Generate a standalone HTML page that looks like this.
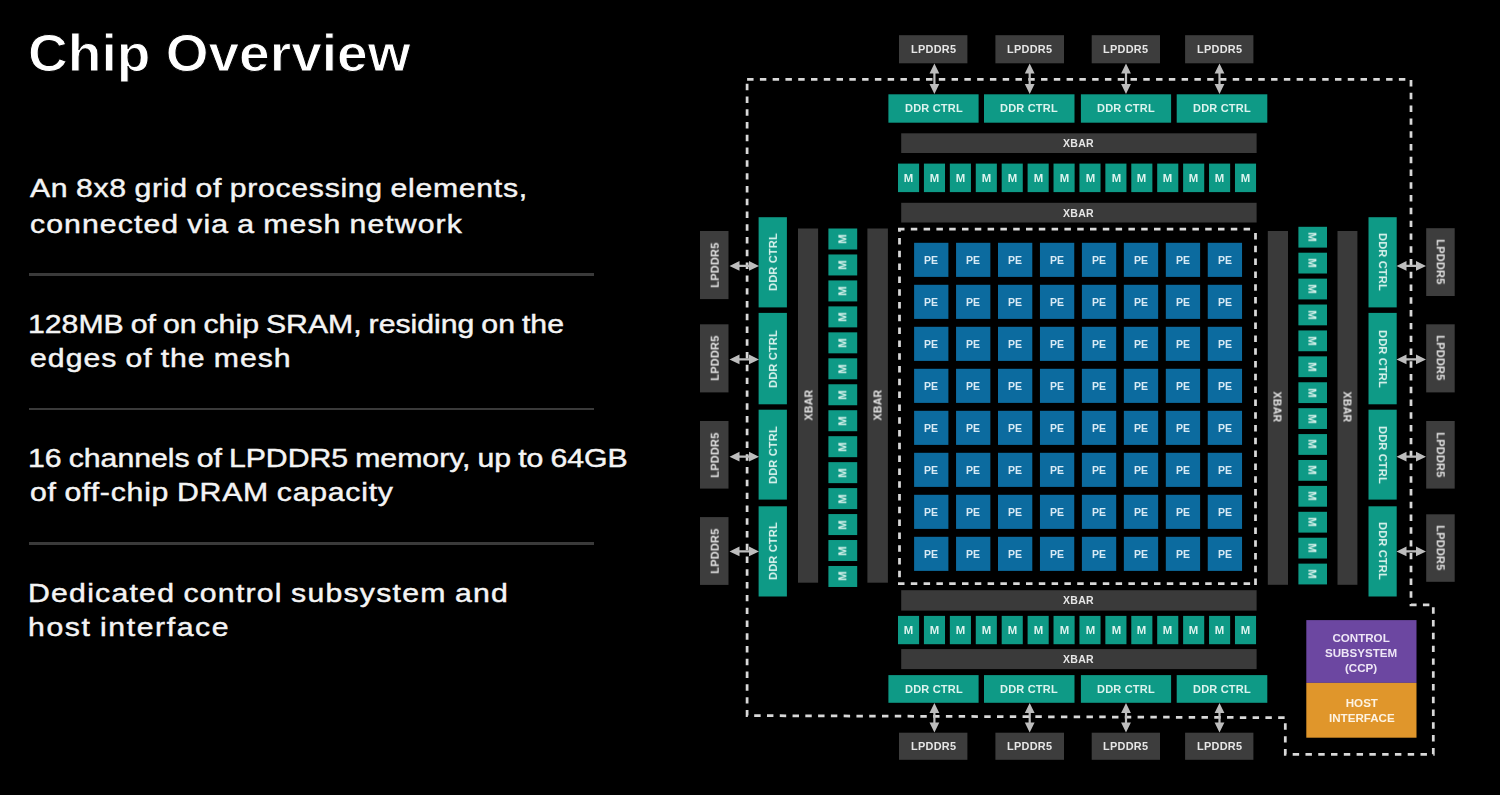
<!DOCTYPE html>
<html><head><meta charset="utf-8"><title>Chip Overview</title>
<style>
html,body{margin:0;padding:0;background:#000;}
body{width:1500px;height:795px;position:relative;overflow:hidden;font-family:"Liberation Sans", sans-serif;}
.b{position:absolute;display:flex;align-items:center;justify-content:center;color:#e6e6e6;font-weight:700;white-space:nowrap;text-align:center;}
.b span{display:block;will-change:transform;}
.rl{transform:rotate(-90deg);}
.rr{transform:rotate(90deg);}
.m span{transform:scaleX(1.08);}
.m .rl{transform:rotate(-90deg) scaleX(1.08);}
.m .rr{transform:rotate(90deg) scaleX(1.08);}
.lp{font-size:10.9px;letter-spacing:0.3px;}
.ddr{font-size:11px;letter-spacing:0.2px;color:#dcf3ee;}
.xb{font-size:10.5px;letter-spacing:0.3px;}
.m{font-size:10.5px;color:#dcf3ee;}
.pe{font-size:10.5px;color:#d8eaf5;}
.ccp{font-size:11.6px;line-height:15px;color:#eee6f6;padding-top:2px;box-sizing:border-box;}
.host{font-size:11.6px;line-height:15px;color:#fdf3e2;padding-bottom:1.5px;box-sizing:border-box;}
.ov{position:absolute;left:0;top:0;}
#stage{position:absolute;left:0;top:0;width:1500px;height:795px;overflow:hidden;background:#000;filter:blur(0.6px);}
.t,.p{position:absolute;white-space:nowrap;line-height:1;color:#fff;transform-origin:0 50%;}
.t{font-size:52.0px;font-weight:700;-webkit-text-stroke:1.0px #000;}
.p{font-size:26.5px;font-weight:400;color:#f4f4f4;word-spacing:-1.2px;-webkit-text-stroke:0.45px #f4f4f4;}
.dv{position:absolute;left:28.5px;width:565.4px;height:2.5px;background:#3a3a3a;}
</style></head>
<body>
<div id="stage">
<div class="t" id="L0" style="left:27.65px;top:27.08px;transform:scaleX(1.0589);letter-spacing:0.000px">Chip Overview</div>
<div class="p" id="L1" style="left:29.64px;top:175.27px;transform:scaleX(1.1400);letter-spacing:0.612px">An 8x8 grid of processing elements,</div>
<div class="p" id="L2" style="left:29.57px;top:210.57px;transform:scaleX(1.1400);letter-spacing:0.951px">connected via a mesh network</div>
<div class="p" id="L3" style="left:27.58px;top:310.67px;transform:scaleX(1.1400);letter-spacing:-0.005px">128MB of on chip SRAM, residing on the</div>
<div class="p" id="L4" style="left:29.57px;top:345.27px;transform:scaleX(1.1400);letter-spacing:0.887px">edges of the mesh</div>
<div class="p" id="L5" style="left:27.58px;top:444.97px;transform:scaleX(1.1400);letter-spacing:0.006px">16 channels of LPDDR5 memory, up to 64GB</div>
<div class="p" id="L6" style="left:29.57px;top:479.47px;transform:scaleX(1.1400);letter-spacing:0.673px">of off-chip DRAM capacity</div>
<div class="p" id="L7" style="left:27.58px;top:579.77px;transform:scaleX(1.1400);letter-spacing:1.088px">Dedicated control subsystem and</div>
<div class="p" id="L8" style="left:27.58px;top:614.07px;transform:scaleX(1.1400);letter-spacing:1.387px">host interface</div>
<div class="dv" style="top:273.25px"></div>
<div class="dv" style="top:407.55px"></div>
<div class="dv" style="top:542.45px"></div>
<svg class="ov" width="1500" height="795" viewBox="0 0 1500 795">
<rect x="899.00" y="35.20" width="68.40" height="28.10" fill="#3d3d3d"/>
<rect x="995.40" y="35.20" width="68.60" height="28.10" fill="#3d3d3d"/>
<rect x="1091.70" y="35.20" width="68.30" height="28.10" fill="#3d3d3d"/>
<rect x="1185.10" y="35.20" width="68.30" height="28.10" fill="#3d3d3d"/>
<rect x="888.40" y="94.30" width="90.20" height="28.40" fill="#0e9a86"/>
<rect x="984.00" y="94.30" width="90.50" height="28.40" fill="#0e9a86"/>
<rect x="1080.90" y="94.30" width="90.20" height="28.40" fill="#0e9a86"/>
<rect x="1176.70" y="94.30" width="90.60" height="28.40" fill="#0e9a86"/>
<rect x="901.20" y="133.30" width="355.40" height="19.70" fill="#3a3a3a"/>
<rect x="898.00" y="163.60" width="21.10" height="28.50" fill="#0e9a86"/>
<rect x="923.92" y="163.60" width="21.10" height="28.50" fill="#0e9a86"/>
<rect x="949.84" y="163.60" width="21.10" height="28.50" fill="#0e9a86"/>
<rect x="975.76" y="163.60" width="21.10" height="28.50" fill="#0e9a86"/>
<rect x="1001.68" y="163.60" width="21.10" height="28.50" fill="#0e9a86"/>
<rect x="1027.60" y="163.60" width="21.10" height="28.50" fill="#0e9a86"/>
<rect x="1053.52" y="163.60" width="21.10" height="28.50" fill="#0e9a86"/>
<rect x="1079.44" y="163.60" width="21.10" height="28.50" fill="#0e9a86"/>
<rect x="1105.36" y="163.60" width="21.10" height="28.50" fill="#0e9a86"/>
<rect x="1131.28" y="163.60" width="21.10" height="28.50" fill="#0e9a86"/>
<rect x="1157.20" y="163.60" width="21.10" height="28.50" fill="#0e9a86"/>
<rect x="1183.12" y="163.60" width="21.10" height="28.50" fill="#0e9a86"/>
<rect x="1209.04" y="163.60" width="21.10" height="28.50" fill="#0e9a86"/>
<rect x="1234.96" y="163.60" width="21.10" height="28.50" fill="#0e9a86"/>
<rect x="901.20" y="202.80" width="355.40" height="19.70" fill="#3a3a3a"/>
<rect x="901.20" y="590.20" width="355.40" height="20.40" fill="#3a3a3a"/>
<rect x="898.00" y="615.90" width="21.10" height="28.30" fill="#0e9a86"/>
<rect x="923.92" y="615.90" width="21.10" height="28.30" fill="#0e9a86"/>
<rect x="949.84" y="615.90" width="21.10" height="28.30" fill="#0e9a86"/>
<rect x="975.76" y="615.90" width="21.10" height="28.30" fill="#0e9a86"/>
<rect x="1001.68" y="615.90" width="21.10" height="28.30" fill="#0e9a86"/>
<rect x="1027.60" y="615.90" width="21.10" height="28.30" fill="#0e9a86"/>
<rect x="1053.52" y="615.90" width="21.10" height="28.30" fill="#0e9a86"/>
<rect x="1079.44" y="615.90" width="21.10" height="28.30" fill="#0e9a86"/>
<rect x="1105.36" y="615.90" width="21.10" height="28.30" fill="#0e9a86"/>
<rect x="1131.28" y="615.90" width="21.10" height="28.30" fill="#0e9a86"/>
<rect x="1157.20" y="615.90" width="21.10" height="28.30" fill="#0e9a86"/>
<rect x="1183.12" y="615.90" width="21.10" height="28.30" fill="#0e9a86"/>
<rect x="1209.04" y="615.90" width="21.10" height="28.30" fill="#0e9a86"/>
<rect x="1234.96" y="615.90" width="21.10" height="28.30" fill="#0e9a86"/>
<rect x="901.20" y="649.10" width="355.40" height="20.00" fill="#3a3a3a"/>
<rect x="888.40" y="675.10" width="90.20" height="27.70" fill="#0e9a86"/>
<rect x="984.00" y="675.10" width="90.50" height="27.70" fill="#0e9a86"/>
<rect x="1080.90" y="675.10" width="90.20" height="27.70" fill="#0e9a86"/>
<rect x="1176.70" y="675.10" width="90.60" height="27.70" fill="#0e9a86"/>
<rect x="899.00" y="732.70" width="68.40" height="27.10" fill="#3d3d3d"/>
<rect x="995.40" y="732.70" width="68.60" height="27.10" fill="#3d3d3d"/>
<rect x="1091.70" y="732.70" width="68.30" height="27.10" fill="#3d3d3d"/>
<rect x="1185.10" y="732.70" width="68.30" height="27.10" fill="#3d3d3d"/>
<rect x="700.00" y="231.00" width="28.50" height="68.10" fill="#3d3d3d"/>
<rect x="700.00" y="324.30" width="28.50" height="68.10" fill="#3d3d3d"/>
<rect x="700.00" y="421.00" width="28.50" height="67.60" fill="#3d3d3d"/>
<rect x="700.00" y="517.10" width="28.50" height="67.80" fill="#3d3d3d"/>
<rect x="758.60" y="217.20" width="28.30" height="90.20" fill="#0e9a86"/>
<rect x="758.60" y="312.90" width="28.30" height="91.40" fill="#0e9a86"/>
<rect x="758.60" y="409.70" width="28.30" height="89.90" fill="#0e9a86"/>
<rect x="758.60" y="506.30" width="28.30" height="90.20" fill="#0e9a86"/>
<rect x="798.00" y="228.50" width="20.10" height="354.20" fill="#3a3a3a"/>
<rect x="828.40" y="228.50" width="28.80" height="21.00" fill="#0e9a86"/>
<rect x="828.40" y="254.46" width="28.80" height="21.00" fill="#0e9a86"/>
<rect x="828.40" y="280.42" width="28.80" height="21.00" fill="#0e9a86"/>
<rect x="828.40" y="306.38" width="28.80" height="21.00" fill="#0e9a86"/>
<rect x="828.40" y="332.34" width="28.80" height="21.00" fill="#0e9a86"/>
<rect x="828.40" y="358.30" width="28.80" height="21.00" fill="#0e9a86"/>
<rect x="828.40" y="384.26" width="28.80" height="21.00" fill="#0e9a86"/>
<rect x="828.40" y="410.22" width="28.80" height="21.00" fill="#0e9a86"/>
<rect x="828.40" y="436.18" width="28.80" height="21.00" fill="#0e9a86"/>
<rect x="828.40" y="462.14" width="28.80" height="21.00" fill="#0e9a86"/>
<rect x="828.40" y="488.10" width="28.80" height="21.00" fill="#0e9a86"/>
<rect x="828.40" y="514.06" width="28.80" height="21.00" fill="#0e9a86"/>
<rect x="828.40" y="540.02" width="28.80" height="21.00" fill="#0e9a86"/>
<rect x="828.40" y="565.98" width="28.80" height="21.00" fill="#0e9a86"/>
<rect x="867.40" y="228.50" width="20.50" height="354.20" fill="#3a3a3a"/>
<rect x="1267.80" y="231.00" width="20.20" height="353.80" fill="#3a3a3a"/>
<rect x="1298.40" y="226.80" width="28.60" height="20.80" fill="#0e9a86"/>
<rect x="1298.40" y="252.71" width="28.60" height="20.80" fill="#0e9a86"/>
<rect x="1298.40" y="278.62" width="28.60" height="20.80" fill="#0e9a86"/>
<rect x="1298.40" y="304.53" width="28.60" height="20.80" fill="#0e9a86"/>
<rect x="1298.40" y="330.44" width="28.60" height="20.80" fill="#0e9a86"/>
<rect x="1298.40" y="356.35" width="28.60" height="20.80" fill="#0e9a86"/>
<rect x="1298.40" y="382.26" width="28.60" height="20.80" fill="#0e9a86"/>
<rect x="1298.40" y="408.17" width="28.60" height="20.80" fill="#0e9a86"/>
<rect x="1298.40" y="434.08" width="28.60" height="20.80" fill="#0e9a86"/>
<rect x="1298.40" y="459.99" width="28.60" height="20.80" fill="#0e9a86"/>
<rect x="1298.40" y="485.90" width="28.60" height="20.80" fill="#0e9a86"/>
<rect x="1298.40" y="511.81" width="28.60" height="20.80" fill="#0e9a86"/>
<rect x="1298.40" y="537.72" width="28.60" height="20.80" fill="#0e9a86"/>
<rect x="1298.40" y="563.63" width="28.60" height="20.80" fill="#0e9a86"/>
<rect x="1337.50" y="231.00" width="19.90" height="353.80" fill="#3a3a3a"/>
<rect x="1368.50" y="217.20" width="28.20" height="90.20" fill="#0e9a86"/>
<rect x="1368.50" y="312.90" width="28.20" height="91.40" fill="#0e9a86"/>
<rect x="1368.50" y="409.70" width="28.20" height="89.90" fill="#0e9a86"/>
<rect x="1368.50" y="506.30" width="28.20" height="90.20" fill="#0e9a86"/>
<rect x="1426.20" y="228.20" width="28.50" height="67.80" fill="#3d3d3d"/>
<rect x="1426.20" y="324.30" width="28.50" height="68.10" fill="#3d3d3d"/>
<rect x="1426.20" y="421.00" width="28.50" height="67.60" fill="#3d3d3d"/>
<rect x="1426.20" y="514.30" width="28.50" height="67.50" fill="#3d3d3d"/>
<rect x="914.10" y="242.80" width="34.30" height="34.10" fill="#0c6b9f"/>
<rect x="956.05" y="242.80" width="34.30" height="34.10" fill="#0c6b9f"/>
<rect x="998.00" y="242.80" width="34.30" height="34.10" fill="#0c6b9f"/>
<rect x="1039.95" y="242.80" width="34.30" height="34.10" fill="#0c6b9f"/>
<rect x="1081.90" y="242.80" width="34.30" height="34.10" fill="#0c6b9f"/>
<rect x="1123.85" y="242.80" width="34.30" height="34.10" fill="#0c6b9f"/>
<rect x="1165.80" y="242.80" width="34.30" height="34.10" fill="#0c6b9f"/>
<rect x="1207.75" y="242.80" width="34.30" height="34.10" fill="#0c6b9f"/>
<rect x="914.10" y="284.80" width="34.30" height="34.10" fill="#0c6b9f"/>
<rect x="956.05" y="284.80" width="34.30" height="34.10" fill="#0c6b9f"/>
<rect x="998.00" y="284.80" width="34.30" height="34.10" fill="#0c6b9f"/>
<rect x="1039.95" y="284.80" width="34.30" height="34.10" fill="#0c6b9f"/>
<rect x="1081.90" y="284.80" width="34.30" height="34.10" fill="#0c6b9f"/>
<rect x="1123.85" y="284.80" width="34.30" height="34.10" fill="#0c6b9f"/>
<rect x="1165.80" y="284.80" width="34.30" height="34.10" fill="#0c6b9f"/>
<rect x="1207.75" y="284.80" width="34.30" height="34.10" fill="#0c6b9f"/>
<rect x="914.10" y="326.80" width="34.30" height="34.10" fill="#0c6b9f"/>
<rect x="956.05" y="326.80" width="34.30" height="34.10" fill="#0c6b9f"/>
<rect x="998.00" y="326.80" width="34.30" height="34.10" fill="#0c6b9f"/>
<rect x="1039.95" y="326.80" width="34.30" height="34.10" fill="#0c6b9f"/>
<rect x="1081.90" y="326.80" width="34.30" height="34.10" fill="#0c6b9f"/>
<rect x="1123.85" y="326.80" width="34.30" height="34.10" fill="#0c6b9f"/>
<rect x="1165.80" y="326.80" width="34.30" height="34.10" fill="#0c6b9f"/>
<rect x="1207.75" y="326.80" width="34.30" height="34.10" fill="#0c6b9f"/>
<rect x="914.10" y="368.80" width="34.30" height="34.10" fill="#0c6b9f"/>
<rect x="956.05" y="368.80" width="34.30" height="34.10" fill="#0c6b9f"/>
<rect x="998.00" y="368.80" width="34.30" height="34.10" fill="#0c6b9f"/>
<rect x="1039.95" y="368.80" width="34.30" height="34.10" fill="#0c6b9f"/>
<rect x="1081.90" y="368.80" width="34.30" height="34.10" fill="#0c6b9f"/>
<rect x="1123.85" y="368.80" width="34.30" height="34.10" fill="#0c6b9f"/>
<rect x="1165.80" y="368.80" width="34.30" height="34.10" fill="#0c6b9f"/>
<rect x="1207.75" y="368.80" width="34.30" height="34.10" fill="#0c6b9f"/>
<rect x="914.10" y="410.80" width="34.30" height="34.10" fill="#0c6b9f"/>
<rect x="956.05" y="410.80" width="34.30" height="34.10" fill="#0c6b9f"/>
<rect x="998.00" y="410.80" width="34.30" height="34.10" fill="#0c6b9f"/>
<rect x="1039.95" y="410.80" width="34.30" height="34.10" fill="#0c6b9f"/>
<rect x="1081.90" y="410.80" width="34.30" height="34.10" fill="#0c6b9f"/>
<rect x="1123.85" y="410.80" width="34.30" height="34.10" fill="#0c6b9f"/>
<rect x="1165.80" y="410.80" width="34.30" height="34.10" fill="#0c6b9f"/>
<rect x="1207.75" y="410.80" width="34.30" height="34.10" fill="#0c6b9f"/>
<rect x="914.10" y="452.80" width="34.30" height="34.10" fill="#0c6b9f"/>
<rect x="956.05" y="452.80" width="34.30" height="34.10" fill="#0c6b9f"/>
<rect x="998.00" y="452.80" width="34.30" height="34.10" fill="#0c6b9f"/>
<rect x="1039.95" y="452.80" width="34.30" height="34.10" fill="#0c6b9f"/>
<rect x="1081.90" y="452.80" width="34.30" height="34.10" fill="#0c6b9f"/>
<rect x="1123.85" y="452.80" width="34.30" height="34.10" fill="#0c6b9f"/>
<rect x="1165.80" y="452.80" width="34.30" height="34.10" fill="#0c6b9f"/>
<rect x="1207.75" y="452.80" width="34.30" height="34.10" fill="#0c6b9f"/>
<rect x="914.10" y="494.80" width="34.30" height="34.10" fill="#0c6b9f"/>
<rect x="956.05" y="494.80" width="34.30" height="34.10" fill="#0c6b9f"/>
<rect x="998.00" y="494.80" width="34.30" height="34.10" fill="#0c6b9f"/>
<rect x="1039.95" y="494.80" width="34.30" height="34.10" fill="#0c6b9f"/>
<rect x="1081.90" y="494.80" width="34.30" height="34.10" fill="#0c6b9f"/>
<rect x="1123.85" y="494.80" width="34.30" height="34.10" fill="#0c6b9f"/>
<rect x="1165.80" y="494.80" width="34.30" height="34.10" fill="#0c6b9f"/>
<rect x="1207.75" y="494.80" width="34.30" height="34.10" fill="#0c6b9f"/>
<rect x="914.10" y="536.80" width="34.30" height="34.10" fill="#0c6b9f"/>
<rect x="956.05" y="536.80" width="34.30" height="34.10" fill="#0c6b9f"/>
<rect x="998.00" y="536.80" width="34.30" height="34.10" fill="#0c6b9f"/>
<rect x="1039.95" y="536.80" width="34.30" height="34.10" fill="#0c6b9f"/>
<rect x="1081.90" y="536.80" width="34.30" height="34.10" fill="#0c6b9f"/>
<rect x="1123.85" y="536.80" width="34.30" height="34.10" fill="#0c6b9f"/>
<rect x="1165.80" y="536.80" width="34.30" height="34.10" fill="#0c6b9f"/>
<rect x="1207.75" y="536.80" width="34.30" height="34.10" fill="#0c6b9f"/>
<rect x="1306.30" y="620.10" width="110.20" height="62.80" fill="#6c47a1"/>
<rect x="1306.30" y="682.90" width="110.20" height="54.80" fill="#e0962b"/>
<path d="M747.1 79.4 H1411 V604.9 H1433.3 V754.3 H1285.3 V717.7 L747.1 715.6 Z" fill="none" stroke="#d8d8d8" stroke-width="2.75" stroke-dasharray="6.45 6.33"/>
<g fill="none" stroke="#d8d8d8" stroke-width="2.75" stroke-dasharray="6.5 6.3">
<path d="M898.0 229.2 H1255.5"/>
<path d="M898.0 583.6 H1255.5"/>
<path d="M1255.5 585.1 V229.2"/>
<path d="M899.5 583.6 V229.2" stroke-dashoffset="6.5"/>
</g>
<polygon fill="#bdbdbd" points="934.40,63.50 939.30,73.50 935.50,73.50 935.50,84.00 939.30,84.00 934.40,94.00 929.50,84.00 933.30,84.00 933.30,73.50 929.50,73.50"/>
<polygon fill="#bdbdbd" points="934.40,703.00 939.30,713.00 935.50,713.00 935.50,722.50 939.30,722.50 934.40,732.50 929.50,722.50 933.30,722.50 933.30,713.00 929.50,713.00"/>
<polygon fill="#bdbdbd" points="1029.70,63.50 1034.60,73.50 1030.80,73.50 1030.80,84.00 1034.60,84.00 1029.70,94.00 1024.80,84.00 1028.60,84.00 1028.60,73.50 1024.80,73.50"/>
<polygon fill="#bdbdbd" points="1029.70,703.00 1034.60,713.00 1030.80,713.00 1030.80,722.50 1034.60,722.50 1029.70,732.50 1024.80,722.50 1028.60,722.50 1028.60,713.00 1024.80,713.00"/>
<polygon fill="#bdbdbd" points="1126.00,63.50 1130.90,73.50 1127.10,73.50 1127.10,84.00 1130.90,84.00 1126.00,94.00 1121.10,84.00 1124.90,84.00 1124.90,73.50 1121.10,73.50"/>
<polygon fill="#bdbdbd" points="1126.00,703.00 1130.90,713.00 1127.10,713.00 1127.10,722.50 1130.90,722.50 1126.00,732.50 1121.10,722.50 1124.90,722.50 1124.90,713.00 1121.10,713.00"/>
<polygon fill="#bdbdbd" points="1219.50,63.50 1224.40,73.50 1220.60,73.50 1220.60,84.00 1224.40,84.00 1219.50,94.00 1214.60,84.00 1218.40,84.00 1218.40,73.50 1214.60,73.50"/>
<polygon fill="#bdbdbd" points="1219.50,703.00 1224.40,713.00 1220.60,713.00 1220.60,722.50 1224.40,722.50 1219.50,732.50 1214.60,722.50 1218.40,722.50 1218.40,713.00 1214.60,713.00"/>
<polygon fill="#bdbdbd" points="729.50,265.90 739.50,261.00 739.50,264.80 749.00,264.80 749.00,261.00 759.00,265.90 749.00,270.80 749.00,267.00 739.50,267.00 739.50,270.80"/>
<polygon fill="#bdbdbd" points="1396.50,265.90 1406.50,261.00 1406.50,264.80 1416.00,264.80 1416.00,261.00 1426.00,265.90 1416.00,270.80 1416.00,267.00 1406.50,267.00 1406.50,270.80"/>
<polygon fill="#bdbdbd" points="729.50,359.40 739.50,354.50 739.50,358.30 749.00,358.30 749.00,354.50 759.00,359.40 749.00,364.30 749.00,360.50 739.50,360.50 739.50,364.30"/>
<polygon fill="#bdbdbd" points="1396.50,359.40 1406.50,354.50 1406.50,358.30 1416.00,358.30 1416.00,354.50 1426.00,359.40 1416.00,364.30 1416.00,360.50 1406.50,360.50 1406.50,364.30"/>
<polygon fill="#bdbdbd" points="729.50,456.70 739.50,451.80 739.50,455.60 749.00,455.60 749.00,451.80 759.00,456.70 749.00,461.60 749.00,457.80 739.50,457.80 739.50,461.60"/>
<polygon fill="#bdbdbd" points="1396.50,456.70 1406.50,451.80 1406.50,455.60 1416.00,455.60 1416.00,451.80 1426.00,456.70 1416.00,461.60 1416.00,457.80 1406.50,457.80 1406.50,461.60"/>
<polygon fill="#bdbdbd" points="729.50,551.40 739.50,546.50 739.50,550.30 749.00,550.30 749.00,546.50 759.00,551.40 749.00,556.30 749.00,552.50 739.50,552.50 739.50,556.30"/>
<polygon fill="#bdbdbd" points="1396.50,551.40 1406.50,546.50 1406.50,550.30 1416.00,550.30 1416.00,546.50 1426.00,551.40 1416.00,556.30 1416.00,552.50 1406.50,552.50 1406.50,556.30"/>
</svg>
<div class="b lp" style="left:899.00px;top:35.20px;width:68.40px;height:28.10px;"><span>LPDDR5</span></div>
<div class="b lp" style="left:995.40px;top:35.20px;width:68.60px;height:28.10px;"><span>LPDDR5</span></div>
<div class="b lp" style="left:1091.70px;top:35.20px;width:68.30px;height:28.10px;"><span>LPDDR5</span></div>
<div class="b lp" style="left:1185.10px;top:35.20px;width:68.30px;height:28.10px;"><span>LPDDR5</span></div>
<div class="b ddr" style="left:888.40px;top:94.30px;width:90.20px;height:28.40px;"><span>DDR CTRL</span></div>
<div class="b ddr" style="left:984.00px;top:94.30px;width:90.50px;height:28.40px;"><span>DDR CTRL</span></div>
<div class="b ddr" style="left:1080.90px;top:94.30px;width:90.20px;height:28.40px;"><span>DDR CTRL</span></div>
<div class="b ddr" style="left:1176.70px;top:94.30px;width:90.60px;height:28.40px;"><span>DDR CTRL</span></div>
<div class="b xb" style="left:901.20px;top:133.30px;width:355.40px;height:19.70px;"><span>XBAR</span></div>
<div class="b m" style="left:898.00px;top:163.60px;width:21.10px;height:28.50px;"><span>M</span></div>
<div class="b m" style="left:923.92px;top:163.60px;width:21.10px;height:28.50px;"><span>M</span></div>
<div class="b m" style="left:949.84px;top:163.60px;width:21.10px;height:28.50px;"><span>M</span></div>
<div class="b m" style="left:975.76px;top:163.60px;width:21.10px;height:28.50px;"><span>M</span></div>
<div class="b m" style="left:1001.68px;top:163.60px;width:21.10px;height:28.50px;"><span>M</span></div>
<div class="b m" style="left:1027.60px;top:163.60px;width:21.10px;height:28.50px;"><span>M</span></div>
<div class="b m" style="left:1053.52px;top:163.60px;width:21.10px;height:28.50px;"><span>M</span></div>
<div class="b m" style="left:1079.44px;top:163.60px;width:21.10px;height:28.50px;"><span>M</span></div>
<div class="b m" style="left:1105.36px;top:163.60px;width:21.10px;height:28.50px;"><span>M</span></div>
<div class="b m" style="left:1131.28px;top:163.60px;width:21.10px;height:28.50px;"><span>M</span></div>
<div class="b m" style="left:1157.20px;top:163.60px;width:21.10px;height:28.50px;"><span>M</span></div>
<div class="b m" style="left:1183.12px;top:163.60px;width:21.10px;height:28.50px;"><span>M</span></div>
<div class="b m" style="left:1209.04px;top:163.60px;width:21.10px;height:28.50px;"><span>M</span></div>
<div class="b m" style="left:1234.96px;top:163.60px;width:21.10px;height:28.50px;"><span>M</span></div>
<div class="b xb" style="left:901.20px;top:202.80px;width:355.40px;height:19.70px;"><span>XBAR</span></div>
<div class="b xb" style="left:901.20px;top:590.20px;width:355.40px;height:20.40px;"><span>XBAR</span></div>
<div class="b m" style="left:898.00px;top:615.90px;width:21.10px;height:28.30px;"><span>M</span></div>
<div class="b m" style="left:923.92px;top:615.90px;width:21.10px;height:28.30px;"><span>M</span></div>
<div class="b m" style="left:949.84px;top:615.90px;width:21.10px;height:28.30px;"><span>M</span></div>
<div class="b m" style="left:975.76px;top:615.90px;width:21.10px;height:28.30px;"><span>M</span></div>
<div class="b m" style="left:1001.68px;top:615.90px;width:21.10px;height:28.30px;"><span>M</span></div>
<div class="b m" style="left:1027.60px;top:615.90px;width:21.10px;height:28.30px;"><span>M</span></div>
<div class="b m" style="left:1053.52px;top:615.90px;width:21.10px;height:28.30px;"><span>M</span></div>
<div class="b m" style="left:1079.44px;top:615.90px;width:21.10px;height:28.30px;"><span>M</span></div>
<div class="b m" style="left:1105.36px;top:615.90px;width:21.10px;height:28.30px;"><span>M</span></div>
<div class="b m" style="left:1131.28px;top:615.90px;width:21.10px;height:28.30px;"><span>M</span></div>
<div class="b m" style="left:1157.20px;top:615.90px;width:21.10px;height:28.30px;"><span>M</span></div>
<div class="b m" style="left:1183.12px;top:615.90px;width:21.10px;height:28.30px;"><span>M</span></div>
<div class="b m" style="left:1209.04px;top:615.90px;width:21.10px;height:28.30px;"><span>M</span></div>
<div class="b m" style="left:1234.96px;top:615.90px;width:21.10px;height:28.30px;"><span>M</span></div>
<div class="b xb" style="left:901.20px;top:649.10px;width:355.40px;height:20.00px;"><span>XBAR</span></div>
<div class="b ddr" style="left:888.40px;top:675.10px;width:90.20px;height:27.70px;"><span>DDR CTRL</span></div>
<div class="b ddr" style="left:984.00px;top:675.10px;width:90.50px;height:27.70px;"><span>DDR CTRL</span></div>
<div class="b ddr" style="left:1080.90px;top:675.10px;width:90.20px;height:27.70px;"><span>DDR CTRL</span></div>
<div class="b ddr" style="left:1176.70px;top:675.10px;width:90.60px;height:27.70px;"><span>DDR CTRL</span></div>
<div class="b lp" style="left:899.00px;top:732.70px;width:68.40px;height:27.10px;"><span>LPDDR5</span></div>
<div class="b lp" style="left:995.40px;top:732.70px;width:68.60px;height:27.10px;"><span>LPDDR5</span></div>
<div class="b lp" style="left:1091.70px;top:732.70px;width:68.30px;height:27.10px;"><span>LPDDR5</span></div>
<div class="b lp" style="left:1185.10px;top:732.70px;width:68.30px;height:27.10px;"><span>LPDDR5</span></div>
<div class="b lp" style="left:700.00px;top:231.00px;width:28.50px;height:68.10px;"><span class="rl">LPDDR5</span></div>
<div class="b lp" style="left:700.00px;top:324.30px;width:28.50px;height:68.10px;"><span class="rl">LPDDR5</span></div>
<div class="b lp" style="left:700.00px;top:421.00px;width:28.50px;height:67.60px;"><span class="rl">LPDDR5</span></div>
<div class="b lp" style="left:700.00px;top:517.10px;width:28.50px;height:67.80px;"><span class="rl">LPDDR5</span></div>
<div class="b ddr" style="left:758.60px;top:217.20px;width:28.30px;height:90.20px;"><span class="rl">DDR CTRL</span></div>
<div class="b ddr" style="left:758.60px;top:312.90px;width:28.30px;height:91.40px;"><span class="rl">DDR CTRL</span></div>
<div class="b ddr" style="left:758.60px;top:409.70px;width:28.30px;height:89.90px;"><span class="rl">DDR CTRL</span></div>
<div class="b ddr" style="left:758.60px;top:506.30px;width:28.30px;height:90.20px;"><span class="rl">DDR CTRL</span></div>
<div class="b xb" style="left:798.00px;top:228.50px;width:20.10px;height:354.20px;margin-top:-0.7px;"><span class="rl">XBAR</span></div>
<div class="b m" style="left:828.40px;top:228.50px;width:28.80px;height:21.00px;"><span class="rl">M</span></div>
<div class="b m" style="left:828.40px;top:254.46px;width:28.80px;height:21.00px;"><span class="rl">M</span></div>
<div class="b m" style="left:828.40px;top:280.42px;width:28.80px;height:21.00px;"><span class="rl">M</span></div>
<div class="b m" style="left:828.40px;top:306.38px;width:28.80px;height:21.00px;"><span class="rl">M</span></div>
<div class="b m" style="left:828.40px;top:332.34px;width:28.80px;height:21.00px;"><span class="rl">M</span></div>
<div class="b m" style="left:828.40px;top:358.30px;width:28.80px;height:21.00px;"><span class="rl">M</span></div>
<div class="b m" style="left:828.40px;top:384.26px;width:28.80px;height:21.00px;"><span class="rl">M</span></div>
<div class="b m" style="left:828.40px;top:410.22px;width:28.80px;height:21.00px;"><span class="rl">M</span></div>
<div class="b m" style="left:828.40px;top:436.18px;width:28.80px;height:21.00px;"><span class="rl">M</span></div>
<div class="b m" style="left:828.40px;top:462.14px;width:28.80px;height:21.00px;"><span class="rl">M</span></div>
<div class="b m" style="left:828.40px;top:488.10px;width:28.80px;height:21.00px;"><span class="rl">M</span></div>
<div class="b m" style="left:828.40px;top:514.06px;width:28.80px;height:21.00px;"><span class="rl">M</span></div>
<div class="b m" style="left:828.40px;top:540.02px;width:28.80px;height:21.00px;"><span class="rl">M</span></div>
<div class="b m" style="left:828.40px;top:565.98px;width:28.80px;height:21.00px;"><span class="rl">M</span></div>
<div class="b xb" style="left:867.40px;top:228.50px;width:20.50px;height:354.20px;margin-top:-0.7px;"><span class="rl">XBAR</span></div>
<div class="b xb" style="left:1267.80px;top:231.00px;width:20.20px;height:353.80px;margin-top:-0.7px;"><span class="rr">XBAR</span></div>
<div class="b m" style="left:1298.40px;top:226.80px;width:28.60px;height:20.80px;"><span class="rr">M</span></div>
<div class="b m" style="left:1298.40px;top:252.71px;width:28.60px;height:20.80px;"><span class="rr">M</span></div>
<div class="b m" style="left:1298.40px;top:278.62px;width:28.60px;height:20.80px;"><span class="rr">M</span></div>
<div class="b m" style="left:1298.40px;top:304.53px;width:28.60px;height:20.80px;"><span class="rr">M</span></div>
<div class="b m" style="left:1298.40px;top:330.44px;width:28.60px;height:20.80px;"><span class="rr">M</span></div>
<div class="b m" style="left:1298.40px;top:356.35px;width:28.60px;height:20.80px;"><span class="rr">M</span></div>
<div class="b m" style="left:1298.40px;top:382.26px;width:28.60px;height:20.80px;"><span class="rr">M</span></div>
<div class="b m" style="left:1298.40px;top:408.17px;width:28.60px;height:20.80px;"><span class="rr">M</span></div>
<div class="b m" style="left:1298.40px;top:434.08px;width:28.60px;height:20.80px;"><span class="rr">M</span></div>
<div class="b m" style="left:1298.40px;top:459.99px;width:28.60px;height:20.80px;"><span class="rr">M</span></div>
<div class="b m" style="left:1298.40px;top:485.90px;width:28.60px;height:20.80px;"><span class="rr">M</span></div>
<div class="b m" style="left:1298.40px;top:511.81px;width:28.60px;height:20.80px;"><span class="rr">M</span></div>
<div class="b m" style="left:1298.40px;top:537.72px;width:28.60px;height:20.80px;"><span class="rr">M</span></div>
<div class="b m" style="left:1298.40px;top:563.63px;width:28.60px;height:20.80px;"><span class="rr">M</span></div>
<div class="b xb" style="left:1337.50px;top:231.00px;width:19.90px;height:353.80px;margin-top:-0.7px;"><span class="rr">XBAR</span></div>
<div class="b ddr" style="left:1368.50px;top:217.20px;width:28.20px;height:90.20px;"><span class="rr">DDR CTRL</span></div>
<div class="b ddr" style="left:1368.50px;top:312.90px;width:28.20px;height:91.40px;"><span class="rr">DDR CTRL</span></div>
<div class="b ddr" style="left:1368.50px;top:409.70px;width:28.20px;height:89.90px;"><span class="rr">DDR CTRL</span></div>
<div class="b ddr" style="left:1368.50px;top:506.30px;width:28.20px;height:90.20px;"><span class="rr">DDR CTRL</span></div>
<div class="b lp" style="left:1426.20px;top:228.20px;width:28.50px;height:67.80px;"><span class="rr">LPDDR5</span></div>
<div class="b lp" style="left:1426.20px;top:324.30px;width:28.50px;height:68.10px;"><span class="rr">LPDDR5</span></div>
<div class="b lp" style="left:1426.20px;top:421.00px;width:28.50px;height:67.60px;"><span class="rr">LPDDR5</span></div>
<div class="b lp" style="left:1426.20px;top:514.30px;width:28.50px;height:67.50px;"><span class="rr">LPDDR5</span></div>
<div class="b pe" style="left:914.10px;top:242.80px;width:34.30px;height:34.10px;"><span>PE</span></div>
<div class="b pe" style="left:956.05px;top:242.80px;width:34.30px;height:34.10px;"><span>PE</span></div>
<div class="b pe" style="left:998.00px;top:242.80px;width:34.30px;height:34.10px;"><span>PE</span></div>
<div class="b pe" style="left:1039.95px;top:242.80px;width:34.30px;height:34.10px;"><span>PE</span></div>
<div class="b pe" style="left:1081.90px;top:242.80px;width:34.30px;height:34.10px;"><span>PE</span></div>
<div class="b pe" style="left:1123.85px;top:242.80px;width:34.30px;height:34.10px;"><span>PE</span></div>
<div class="b pe" style="left:1165.80px;top:242.80px;width:34.30px;height:34.10px;"><span>PE</span></div>
<div class="b pe" style="left:1207.75px;top:242.80px;width:34.30px;height:34.10px;"><span>PE</span></div>
<div class="b pe" style="left:914.10px;top:284.80px;width:34.30px;height:34.10px;"><span>PE</span></div>
<div class="b pe" style="left:956.05px;top:284.80px;width:34.30px;height:34.10px;"><span>PE</span></div>
<div class="b pe" style="left:998.00px;top:284.80px;width:34.30px;height:34.10px;"><span>PE</span></div>
<div class="b pe" style="left:1039.95px;top:284.80px;width:34.30px;height:34.10px;"><span>PE</span></div>
<div class="b pe" style="left:1081.90px;top:284.80px;width:34.30px;height:34.10px;"><span>PE</span></div>
<div class="b pe" style="left:1123.85px;top:284.80px;width:34.30px;height:34.10px;"><span>PE</span></div>
<div class="b pe" style="left:1165.80px;top:284.80px;width:34.30px;height:34.10px;"><span>PE</span></div>
<div class="b pe" style="left:1207.75px;top:284.80px;width:34.30px;height:34.10px;"><span>PE</span></div>
<div class="b pe" style="left:914.10px;top:326.80px;width:34.30px;height:34.10px;"><span>PE</span></div>
<div class="b pe" style="left:956.05px;top:326.80px;width:34.30px;height:34.10px;"><span>PE</span></div>
<div class="b pe" style="left:998.00px;top:326.80px;width:34.30px;height:34.10px;"><span>PE</span></div>
<div class="b pe" style="left:1039.95px;top:326.80px;width:34.30px;height:34.10px;"><span>PE</span></div>
<div class="b pe" style="left:1081.90px;top:326.80px;width:34.30px;height:34.10px;"><span>PE</span></div>
<div class="b pe" style="left:1123.85px;top:326.80px;width:34.30px;height:34.10px;"><span>PE</span></div>
<div class="b pe" style="left:1165.80px;top:326.80px;width:34.30px;height:34.10px;"><span>PE</span></div>
<div class="b pe" style="left:1207.75px;top:326.80px;width:34.30px;height:34.10px;"><span>PE</span></div>
<div class="b pe" style="left:914.10px;top:368.80px;width:34.30px;height:34.10px;"><span>PE</span></div>
<div class="b pe" style="left:956.05px;top:368.80px;width:34.30px;height:34.10px;"><span>PE</span></div>
<div class="b pe" style="left:998.00px;top:368.80px;width:34.30px;height:34.10px;"><span>PE</span></div>
<div class="b pe" style="left:1039.95px;top:368.80px;width:34.30px;height:34.10px;"><span>PE</span></div>
<div class="b pe" style="left:1081.90px;top:368.80px;width:34.30px;height:34.10px;"><span>PE</span></div>
<div class="b pe" style="left:1123.85px;top:368.80px;width:34.30px;height:34.10px;"><span>PE</span></div>
<div class="b pe" style="left:1165.80px;top:368.80px;width:34.30px;height:34.10px;"><span>PE</span></div>
<div class="b pe" style="left:1207.75px;top:368.80px;width:34.30px;height:34.10px;"><span>PE</span></div>
<div class="b pe" style="left:914.10px;top:410.80px;width:34.30px;height:34.10px;"><span>PE</span></div>
<div class="b pe" style="left:956.05px;top:410.80px;width:34.30px;height:34.10px;"><span>PE</span></div>
<div class="b pe" style="left:998.00px;top:410.80px;width:34.30px;height:34.10px;"><span>PE</span></div>
<div class="b pe" style="left:1039.95px;top:410.80px;width:34.30px;height:34.10px;"><span>PE</span></div>
<div class="b pe" style="left:1081.90px;top:410.80px;width:34.30px;height:34.10px;"><span>PE</span></div>
<div class="b pe" style="left:1123.85px;top:410.80px;width:34.30px;height:34.10px;"><span>PE</span></div>
<div class="b pe" style="left:1165.80px;top:410.80px;width:34.30px;height:34.10px;"><span>PE</span></div>
<div class="b pe" style="left:1207.75px;top:410.80px;width:34.30px;height:34.10px;"><span>PE</span></div>
<div class="b pe" style="left:914.10px;top:452.80px;width:34.30px;height:34.10px;"><span>PE</span></div>
<div class="b pe" style="left:956.05px;top:452.80px;width:34.30px;height:34.10px;"><span>PE</span></div>
<div class="b pe" style="left:998.00px;top:452.80px;width:34.30px;height:34.10px;"><span>PE</span></div>
<div class="b pe" style="left:1039.95px;top:452.80px;width:34.30px;height:34.10px;"><span>PE</span></div>
<div class="b pe" style="left:1081.90px;top:452.80px;width:34.30px;height:34.10px;"><span>PE</span></div>
<div class="b pe" style="left:1123.85px;top:452.80px;width:34.30px;height:34.10px;"><span>PE</span></div>
<div class="b pe" style="left:1165.80px;top:452.80px;width:34.30px;height:34.10px;"><span>PE</span></div>
<div class="b pe" style="left:1207.75px;top:452.80px;width:34.30px;height:34.10px;"><span>PE</span></div>
<div class="b pe" style="left:914.10px;top:494.80px;width:34.30px;height:34.10px;"><span>PE</span></div>
<div class="b pe" style="left:956.05px;top:494.80px;width:34.30px;height:34.10px;"><span>PE</span></div>
<div class="b pe" style="left:998.00px;top:494.80px;width:34.30px;height:34.10px;"><span>PE</span></div>
<div class="b pe" style="left:1039.95px;top:494.80px;width:34.30px;height:34.10px;"><span>PE</span></div>
<div class="b pe" style="left:1081.90px;top:494.80px;width:34.30px;height:34.10px;"><span>PE</span></div>
<div class="b pe" style="left:1123.85px;top:494.80px;width:34.30px;height:34.10px;"><span>PE</span></div>
<div class="b pe" style="left:1165.80px;top:494.80px;width:34.30px;height:34.10px;"><span>PE</span></div>
<div class="b pe" style="left:1207.75px;top:494.80px;width:34.30px;height:34.10px;"><span>PE</span></div>
<div class="b pe" style="left:914.10px;top:536.80px;width:34.30px;height:34.10px;"><span>PE</span></div>
<div class="b pe" style="left:956.05px;top:536.80px;width:34.30px;height:34.10px;"><span>PE</span></div>
<div class="b pe" style="left:998.00px;top:536.80px;width:34.30px;height:34.10px;"><span>PE</span></div>
<div class="b pe" style="left:1039.95px;top:536.80px;width:34.30px;height:34.10px;"><span>PE</span></div>
<div class="b pe" style="left:1081.90px;top:536.80px;width:34.30px;height:34.10px;"><span>PE</span></div>
<div class="b pe" style="left:1123.85px;top:536.80px;width:34.30px;height:34.10px;"><span>PE</span></div>
<div class="b pe" style="left:1165.80px;top:536.80px;width:34.30px;height:34.10px;"><span>PE</span></div>
<div class="b pe" style="left:1207.75px;top:536.80px;width:34.30px;height:34.10px;"><span>PE</span></div>
<div class="b ccp" style="left:1306.30px;top:620.10px;width:110.20px;height:62.80px;"><span>CONTROL<br>SUBSYSTEM<br>(CCP)</span></div>
<div class="b host" style="left:1306.30px;top:682.90px;width:110.20px;height:54.80px;"><span>HOST<br>INTERFACE</span></div>
</div>
</body></html>
